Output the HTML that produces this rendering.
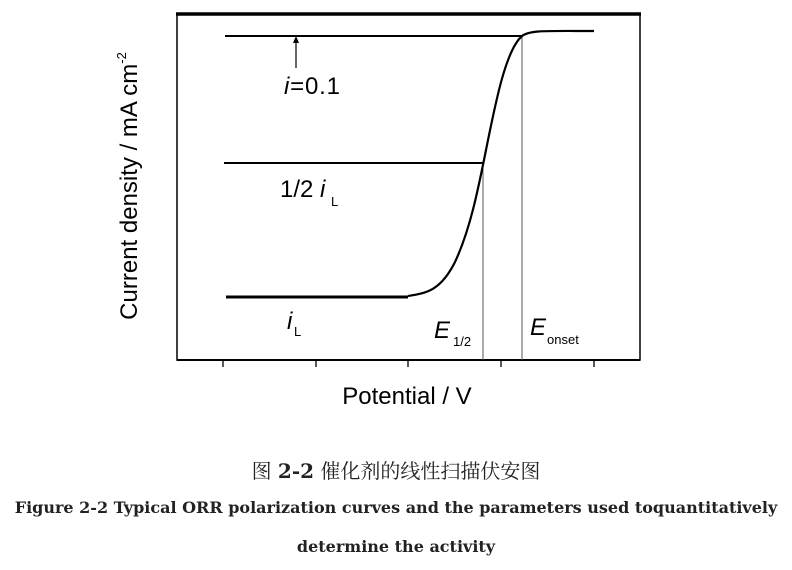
<!DOCTYPE html>
<html><head><meta charset="utf-8"><style>
body{margin:0;background:#fff;width:792px;height:570px;overflow:hidden}
.c{position:absolute;left:0;width:792px;text-align:center;font-family:"DejaVu Serif","Noto Serif CJK SC",serif;color:#222;white-space:nowrap}
</style></head><body>
<svg width="792" height="570" style="position:absolute;left:0;top:0" font-family="Liberation Sans, sans-serif">
<rect x="177" y="14" width="463" height="346" fill="none" stroke="#000" stroke-width="1.5"/>
<line x1="176" y1="14" x2="641" y2="14" stroke="#000" stroke-width="3.5"/>
<line x1="177" y1="360" x2="640" y2="360" stroke="#000" stroke-width="2"/>
<g stroke="#000" stroke-width="1.3">
<line x1="223" y1="360" x2="223" y2="367"/><line x1="316" y1="360" x2="316" y2="367"/>
<line x1="408" y1="360" x2="408" y2="367"/><line x1="501" y1="360" x2="501" y2="367"/>
<line x1="594" y1="360" x2="594" y2="367"/>
</g>
<g stroke="#000" fill="none">
<line x1="225" y1="36" x2="522" y2="36" stroke-width="2"/>
<line x1="224" y1="163" x2="483" y2="163" stroke-width="2"/>
<line x1="226" y1="297" x2="408" y2="297" stroke-width="3"/>
<line x1="483" y1="163" x2="483" y2="360" stroke-width="1" stroke="#555"/>
<line x1="522" y1="36" x2="522" y2="360" stroke-width="1" stroke="#555"/>
<path d="M408,296 C425,293 440,292 455,262 C470,230 478,190 486,150 C496,100 506,50 522,36 C530,30 545,31 594,31" stroke-width="2.2"/>
<line x1="296" y1="68" x2="296" y2="40" stroke-width="1.2"/>
</g>
<path d="M296,36 L293,43 L299,43Z" fill="#000"/>
<g font-size="24" fill="#000">
<text x="284" y="94" textLength="56"><tspan font-style="italic">i</tspan>=0.1</text>
<text x="280" y="197">1/2 <tspan font-style="italic">i</tspan></text>
<text x="331" y="206" font-size="13">L</text>
<text x="287" y="329" font-style="italic">i</text>
<text x="294" y="336" font-size="13">L</text>
<text x="434" y="338" font-style="italic">E</text>
<text x="453" y="346" font-size="13">1/2</text>
<text x="530" y="335" font-style="italic">E</text>
<text x="547" y="344" font-size="13">onset</text>
<text x="407" y="404" text-anchor="middle">Potential / V</text>
<text transform="translate(137,186) rotate(-90)" text-anchor="middle">Current density / mA cm<tspan font-size="13" dy="-11">-2</tspan></text>
</g>
</svg>
<div class="c" style="top:455px;font-size:20px">图 <b>2-2</b> 催化剂的线性扫描伏安图</div>
<div class="c" style="top:498px;font-size:16px;font-weight:bold">Figure 2-2 Typical ORR polarization curves and the parameters used toquantitatively</div>
<div class="c" style="top:537px;font-size:16px;font-weight:bold">determine the activity</div>
</body></html>
